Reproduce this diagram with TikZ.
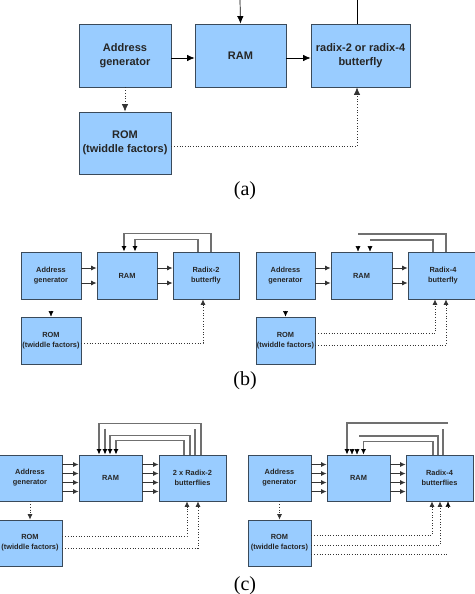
\documentclass[tikz,border=0pt]{standalone}
\usepackage{fontspec}
\usetikzlibrary{arrows.meta}
\setmainfont{Liberation Serif}
\setsansfont{Liberation Sans}
\definecolor{boxblue}{HTML}{99CCFF}
\definecolor{edge}{HTML}{3A4A5A}
\definecolor{fbgray}{HTML}{707070}
\begin{document}
\begin{tikzpicture}[x=1pt,y=-1pt,>={Latex[length=5.5pt,width=5pt]},
  blk/.style={draw=edge,fill=boxblue,line width=.8pt,inner sep=0pt,align=center,
    text=black!85,font=\sffamily\bfseries\fontsize{7.4}{10}\selectfont},
  bigblk/.style={blk,font=\sffamily\bfseries\fontsize{11}{14}\selectfont},
  big/.style={>={Latex[length=7.5pt,width=6.5pt]},line width=.7pt},
  data/.style={->,draw=black!80,line width=.9pt},
  fb/.style={draw=fbgray,line width=1.2pt,-{Latex[length=5.5pt,width=5pt,color=black]}},
  fbline/.style={draw=fbgray,line width=1.2pt},
  tw/.style={->,dotted,draw=black!80,line width=.7pt},
  lbl/.style={font=\fontsize{20}{20}\selectfont}]
\useasboundingbox (0,0) rectangle (474,594);
% (a)
\begin{scope}[big]
\node[bigblk,minimum width=92,minimum height=63] (adda) at (125,55.5) {Address\\generator};
\node[bigblk,minimum width=91,minimum height=63] (rama) at (240.5,55.5) {RAM};
\node[bigblk,minimum width=99,minimum height=63] (bfa) at (360.5,55.5) {radix-2 or radix-4\\butterfly};
\node[bigblk,minimum width=92,minimum height=62] (roma) at (125,143) {ROM\\(twiddle factors)};
\coordinate (ina) at (240,0);
\coordinate (outa) at (357,0);
\draw[->] (ina) -- (rama.north);
\draw ([xshift=-3.5pt]bfa.north) -- (outa);
\draw[->] ([yshift=-2.5pt]adda.east) -- ([yshift=-2.5pt]rama.west);
\draw[->] ([yshift=-2.5pt]rama.east) -- ([yshift=-2.5pt]bfa.west);
\draw[tw] (adda) -- (roma);
\draw[tw] ([yshift=-3pt]roma.east) -| ([xshift=-3.5pt]bfa.south);
\node[lbl] (capa) at (245,191) {(a)};
\end{scope}
% (b) radix-2
\begin{scope}
\node[blk,minimum width=60,minimum height=47] (addbl) at (51,275.5) {Address\\generator};
\node[blk,minimum width=60,minimum height=47] (rambl) at (127,275.5) {RAM};
\node[blk,minimum width=66,minimum height=47] (bfbl) at (206,275.5) {Radix-2\\butterfly};
\node[blk,minimum width=60,minimum height=47] (rombl) at (51,340.5) {ROM\\(twiddle factors)};
\foreach \d in {-7.5,7.5}{
  \draw[data] ([yshift=\d pt]addbl.east) -- ([yshift=\d pt]rambl.west);
  \draw[data] ([yshift=\d pt]rambl.east) -- ([yshift=\d pt]bfbl.west);
}
\draw[fb] ([xshift=5pt]bfbl.north) -- ++(0,-18) -| ([xshift=-3pt]rambl.north);
\draw[fb] ([xshift=-8pt]bfbl.north) -- ++(0,-12) -| ([xshift=8pt]rambl.north);
\draw[->] ([yshift=6pt]rombl.north) -- (rombl.north);
\draw[tw] ([yshift=-2.5pt]rombl.east) -| ([xshift=-3pt]bfbl.south);
\end{scope}
% (b) radix-4
\begin{scope}
\node[blk,minimum width=59,minimum height=47] (addbr) at (285.5,275.5) {Address\\generator};
\node[blk,minimum width=61,minimum height=47] (rambr) at (361.5,275.5) {RAM};
\node[blk,minimum width=70,minimum height=47] (bfbr) at (443,275.5) {Radix-4\\butterfly};
\node[blk,minimum width=59,minimum height=47] (rombr) at (285.5,340.5) {ROM\\(twiddle factors)};
\foreach \d in {-7.5,7.5}{
  \draw[data] ([yshift=\d pt]addbr.east) -- ([yshift=\d pt]rambr.west);
  \draw[data] ([yshift=\d pt]rambr.east) -- ([yshift=\d pt]bfbr.west);
}
\coordinate (fb1br) at (358,234);
\coordinate (fb2br) at (370,240);
\draw[fbline] ([xshift=3pt]bfbr.north) |- (fb1br);
\draw[fbline] ([xshift=-10pt]bfbr.north) |- (fb2br);
\foreach \s in {-3.5,8.5}
  \draw[->] ([xshift=\s pt,yshift=6pt]rambr.north) -- ([xshift=\s pt]rambr.north);
\draw[->] ([yshift=6pt]rombr.north) -- (rombr.north);
\draw[tw] ([yshift=7.5pt]rombr.east) -| ([xshift=-8pt]bfbr.south);
\draw[tw] ([yshift=-4.5pt]rombr.east) -| ([xshift=3pt]bfbr.south);
\node[lbl] (capb) at (245,381) {(b)};
\end{scope}
% (c) 2 x radix-2
\begin{scope}
\node[blk,minimum width=64,minimum height=46] (addcl) at (30,478) {Address\\generator};
\node[blk,minimum width=63,minimum height=46] (ramcl) at (110.5,478) {RAM};
\node[blk,minimum width=67,minimum height=46] (bfcl) at (192.5,478) {2 x Radix-2\\butterflies};
\node[blk,minimum width=64,minimum height=46] (romcl) at (30,543) {ROM\\(twiddle factors)};
\foreach \d in {-13.5,-4.5,4.5,13.5}{
  \draw[data] ([yshift=\d pt]addcl.east) -- ([yshift=\d pt]ramcl.west);
  \draw[data] ([yshift=\d pt]ramcl.east) -- ([yshift=\d pt]bfcl.west);
}
\draw[fb] ([xshift=8.5pt]bfcl.north) -- ++(0,-31) -| ([xshift=-11.5pt]ramcl.north);
\draw[fbline] ([xshift=2.5pt]bfcl.north) -- ++(0,-26);
\draw[fb] ([xshift=-5.5pt,yshift=26pt]ramcl.north) -- ([xshift=-5.5pt]ramcl.north);
\draw[fb] ([xshift=-2.5pt]bfcl.north) -- ++(0,-19) -| ([xshift=-0.5pt]ramcl.north);
\draw[fb] ([xshift=-8.5pt]bfcl.north) -- ++(0,-14) -| ([xshift=5.5pt]ramcl.north);
\draw[tw] (addcl) -- (romcl);
\draw[tw] ([yshift=7pt]romcl.east) -| ([xshift=-5.5pt]bfcl.south);
\draw[tw] ([yshift=-5pt]romcl.east) -| ([xshift=5.5pt]bfcl.south);
\end{scope}
% (c) radix-4
\begin{scope}
\node[blk,minimum width=63,minimum height=46] (addcr) at (279.5,478) {Address\\generator};
\node[blk,minimum width=63,minimum height=46] (ramcr) at (358.5,478) {RAM};
\node[blk,minimum width=67,minimum height=46] (bfcr) at (439.5,478) {Radix-4\\butterflies};
\node[blk,minimum width=63,minimum height=46] (romcr) at (279.5,543) {ROM\\(twiddle factors)};
\foreach \d in {-13.5,-4.5,4.5,13.5}{
  \draw[data] ([yshift=\d pt]addcr.east) -- ([yshift=\d pt]ramcr.west);
  \draw[data] ([yshift=\d pt]ramcr.east) -- ([yshift=\d pt]bfcr.west);
}
\coordinate (fb1cr) at (448,423);
\coordinate (fb3cr) at (359,436);
\draw[fb] (fb1cr) -| ([xshift=-11.5pt]ramcr.north);
\draw[fbline] ([xshift=3.5pt]bfcr.north) -- ++(0,-26);
\draw[fbline] ([xshift=-1.5pt]bfcr.north) |- (fb3cr);
\draw[fb] ([xshift=-6.5pt]bfcr.north) -- ++(0,-13) -| ([xshift=5pt]ramcr.north);
\foreach \s in {-6.5,-1.5}
  \draw[->] ([xshift=\s pt,yshift=6pt]ramcr.north) -- ([xshift=\s pt]ramcr.north);
\draw[tw] (addcr) -- (romcr);
\coordinate (tw3cr) at (448,554);
\draw[tw] ([yshift=8pt]romcr.east) -| ([xshift=-7.5pt]bfcr.south);
\draw[tw] ([yshift=-2pt]romcr.east) -| ([xshift=0.5pt]bfcr.south);
\draw[dotted,draw=black!80,line width=.7pt] ([yshift=-11pt]romcr.east) -- (tw3cr);
\draw[->] ([xshift=8.5pt,yshift=-6pt]bfcr.south) -- ([xshift=8.5pt]bfcr.south);
\node[lbl] (capc) at (245,586) {(c)};
\end{scope}
\end{tikzpicture}
\end{document}
